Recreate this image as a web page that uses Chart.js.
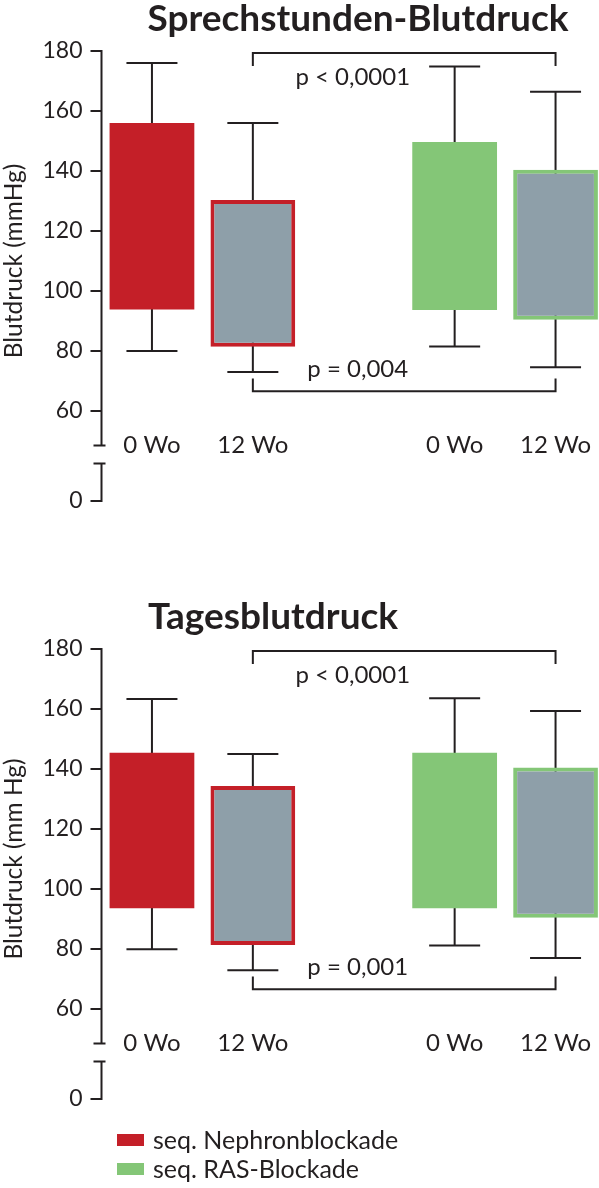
<!DOCTYPE html>
<html><head><meta charset="utf-8">
<script src="https://cdn.jsdelivr.net/npm/chart.js@4.4.1/dist/chart.umd.min.js"></script>
<style>
html,body{margin:0;padding:0;background:#fff;overflow:hidden;width:599px;height:1188px;}
canvas{position:absolute;left:0;}
#c1{top:0;}
#c2{top:598px;}
</style></head><body>
<canvas id="c1" width="606" height="590"></canvas>
<canvas id="c2" width="606" height="590"></canvas>
<script>
// ---------- data ----------
const categories = ['0 Wo', '12 Wo', '', '0 Wo', '12 Wo'];
const groupNames = ['seq. Nephronblockade', 'seq. RAS-Blockade'];
const yTickValues = [60, 80, 100, 120, 140, 160, 180];
const zeroLabel = '0';

// Sprechstunden-Blutdruck
const officeBoxLow      = [93.8, 81.4, null, 93.7, 90.4];
const officeBoxHigh     = [156.0, 130.3, null, 149.7, 140.4];
const officeWhiskerLow  = [80.0, 73.0, null, 81.5, 74.6];
const officeWhiskerHigh = [176.0, 156.0, null, 174.8, 166.4];
const officePTop = 'p < 0,0001';
const officePBottom = 'p = 0,004';

// Tagesblutdruck
const dayBoxLow      = [93.6, 81.3, null, 93.6, 90.4];
const dayBoxHigh     = [145.4, 134.3, null, 145.4, 140.5];
const dayWhiskerLow  = [79.9, 72.9, null, 81.2, 77.0];
const dayWhiskerHigh = [163.3, 145.0, null, 163.6, 159.3];
const dayPTop = 'p < 0,0001';
const dayPBottom = 'p = 0,001';

// ---------- style ----------
const INK = '#231f20', RED = '#c41f28', GREEN = '#84c677', GRAY = '#8e9fa9', NONE = 'rgba(0,0,0,0)';
const FONT = 'Lato, "Noto Sans", sans-serif';
const AXIS_BREAK_HI = 48.5, AXIS_BREAK_LO = 42.5, AXIS_ZERO_AT = 30;

function makeDeco(cfg) {
  return {
    id: 'deco',
    beforeDatasetsDraw(chart) {
      const ctx = chart.ctx, xs = chart.scales.x, ys = chart.scales.y;
      ctx.save();
      ctx.strokeStyle = INK; ctx.lineWidth = 2;
      cfg.wLow.forEach((lo, i) => {
        if (lo == null) return;
        const cx = xs.getPixelForValue(i);
        const yl = ys.getPixelForValue(lo), yh = ys.getPixelForValue(cfg.wHigh[i]);
        ctx.beginPath();
        ctx.moveTo(cx, yl); ctx.lineTo(cx, yh);
        ctx.moveTo(cx - 25.5, yl); ctx.lineTo(cx + 25.5, yl);
        ctx.moveTo(cx - 25.5, yh); ctx.lineTo(cx + 25.5, yh);
        ctx.stroke();
      });
      ctx.restore();
    },
    afterDraw(chart) {
      const ctx = chart.ctx, xs = chart.scales.x, ys = chart.scales.y;
      const ax = chart.chartArea.left;
      ctx.save();
      ctx.strokeStyle = INK; ctx.fillStyle = INK; ctx.lineWidth = 2;
      // broken y axis
      const yTop = ys.getPixelForValue(ys.max);
      const yB1 = ys.getPixelForValue(AXIS_BREAK_HI), yB2 = ys.getPixelForValue(AXIS_BREAK_LO);
      const yZ = ys.getPixelForValue(AXIS_ZERO_AT);
      ctx.beginPath();
      ctx.moveTo(ax, yTop - 1); ctx.lineTo(ax, yB1);
      ctx.moveTo(ax - 8, yB1); ctx.lineTo(ax + 4, yB1);
      ctx.moveTo(ax - 8, yB2); ctx.lineTo(ax + 4, yB2);
      ctx.moveTo(ax, yB2); ctx.lineTo(ax, yZ + 1);
      ctx.moveTo(ax - 11, yZ); ctx.lineTo(ax, yZ);
      ctx.stroke();
      ctx.font = '23px ' + FONT; ctx.textAlign = 'right'; ctx.textBaseline = 'middle';
      ctx.fillText(zeroLabel, ax - 19, yZ);
      // brackets
      const x1 = xs.getPixelForValue(1), x2 = xs.getPixelForValue(4);
      [[179.3, 175.0], [66.6, 70.8]].forEach(([lv, tip]) => {
        const yl = ys.getPixelForValue(lv), yt = ys.getPixelForValue(tip);
        ctx.beginPath();
        ctx.moveTo(x1, yt); ctx.lineTo(x1, yl); ctx.lineTo(x2, yl); ctx.lineTo(x2, yt);
        ctx.stroke();
      });
      ctx.font = '24px ' + FONT; ctx.textAlign = 'center'; ctx.textBaseline = 'middle';
      const xm = xs.getPixelForValue(2);
      ctx.fillText(cfg.pTop, xm - 1, ys.getPixelForValue(171.3));
      ctx.fillText(cfg.pBot, xm + 4, ys.getPixelForValue(74.0));
      // title
      ctx.font = 'bold 37px ' + FONT; ctx.textAlign = 'center'; ctx.textBaseline = 'middle';
      ctx.fillText(cfg.title, cfg.titleX, 19);
      // y title
      ctx.save();
      ctx.translate(14, 261); ctx.rotate(-Math.PI / 2);
      ctx.font = '24.5px ' + FONT; ctx.textAlign = 'center'; ctx.textBaseline = 'middle';
      ctx.fillText(cfg.yTitle, 0, 0);
      ctx.restore();
      // legend
      if (cfg.legend) {
        const cols = [RED, GREEN];
        ctx.font = '25px ' + FONT; ctx.textAlign = 'left'; ctx.textBaseline = 'middle';
        groupNames.forEach((g, i) => {
          const yc = 542 + i * 29;
          ctx.fillStyle = cols[i];
          ctx.fillRect(117, yc - 6, 27, 12);
          ctx.fillStyle = INK;
          ctx.fillText(g, 153, yc + 1);
        });
      }
      ctx.restore();
    }
  };
}

function makeChart(id, cfg) {
  return new Chart(document.getElementById(id), {
    type: 'bar',
    data: {
      labels: categories,
      datasets: [{
        data: cfg.low.map((l, i) => l == null ? null : [l, cfg.high[i]]),
        backgroundColor: [RED, GRAY, NONE, GREEN, GRAY],
        borderColor: [RED, RED, NONE, GREEN, GREEN],
        borderWidth: [0, 4, 0, 0, 4],
        borderSkipped: false,
        categoryPercentage: 1,
        barPercentage: 0.84
      }]
    },
    options: {
      responsive: false,
      animation: false,
      layout: { padding: { top: 51, bottom: 144.5, left: 0, right: 0 } },
      plugins: { legend: { display: false }, tooltip: { enabled: false }, title: { display: false } },
      scales: {
        x: {
          grid: { display: false, drawTicks: false },
          border: { display: false },
          ticks: { color: INK, font: { family: FONT, size: 24 }, padding: 0, mirror: true, crossAlign: 'center', maxRotation: 0, autoSkip: false }
        },
        y: {
          min: AXIS_BREAK_HI, max: 180,
          grid: { display: true, drawOnChartArea: false, drawTicks: true, tickLength: 11, color: INK, lineWidth: 2 },
          border: { display: false },
          afterBuildTicks: sc => { sc.ticks = yTickValues.map(v => ({ value: v })); },
          afterFit: sc => { sc.width = 101.5; },
          ticks: { color: INK, font: { family: FONT, size: 23 }, padding: 8, autoSkip: false }
        }
      }
    },
    plugins: [makeDeco(cfg)]
  });
}

makeChart('c1', {
  low: officeBoxLow, high: officeBoxHigh, wLow: officeWhiskerLow, wHigh: officeWhiskerHigh,
  pTop: officePTop, pBot: officePBottom,
  title: 'Sprechstunden-Blutdruck', titleX: 358, yTitle: 'Blutdruck (mmHg)', legend: false
});
makeChart('c2', {
  low: dayBoxLow, high: dayBoxHigh, wLow: dayWhiskerLow, wHigh: dayWhiskerHigh,
  pTop: dayPTop, pBot: dayPBottom,
  title: 'Tagesblutdruck', titleX: 273, yTitle: 'Blutdruck (mm Hg)', legend: true
});
</script>
</body></html>
